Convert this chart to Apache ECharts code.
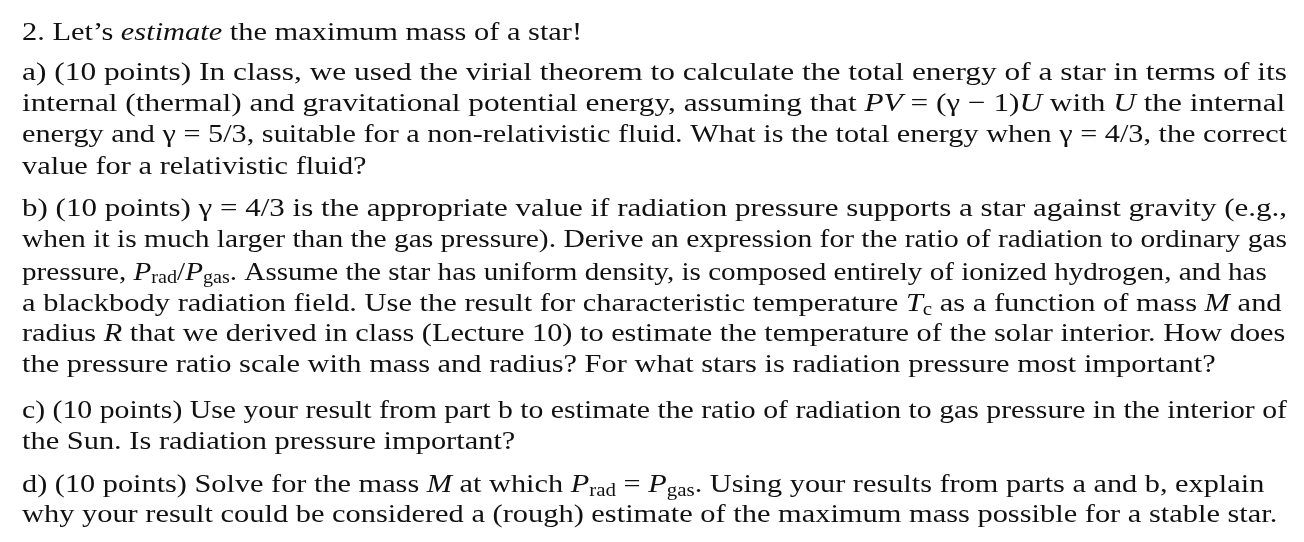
<!DOCTYPE html>
<html><head><meta charset="utf-8">
<script src="https://cdn.jsdelivr.net/npm/echarts@6/dist/echarts.min.js"></script>
<style>html,body{margin:0;background:#fff}#c{width:1304px;height:542px}</style>
</head><body><div id="c"></div>
<script>
// paragraph text, one entry per printed line; {i|..} italic, {s|..} subscript
const title = ["2. Let’s {i|estimate} the maximum mass of a star!"];
const partA = [
  "a) (10 points) In class, we used the virial theorem to calculate the total energy of a star in terms of its",
  "internal (thermal) and gravitational potential energy, assuming that {i|PV} = (γ − 1){i|U} with {i|U} the internal",
  "energy and γ = 5/3, suitable for a non-relativistic fluid. What is the total energy when γ = 4/3, the correct",
  "value for a relativistic fluid?"
];
const partB = [
  "b) (10 points) γ = 4/3 is the appropriate value if radiation pressure supports a star against gravity (e.g.,",
  "when it is much larger than the gas pressure). Derive an expression for the ratio of radiation to ordinary gas",
  "pressure, {i|P}{s|rad}/{i|P}{s|gas}. Assume the star has uniform density, is composed entirely of ionized hydrogen, and has",
  "a blackbody radiation field. Use the result for characteristic temperature {i|T}{s|c} as a function of mass {i|M} and",
  "radius {i|R} that we derived in class (Lecture 10) to estimate the temperature of the solar interior. How does",
  "the pressure ratio scale with mass and radius? For what stars is radiation pressure most important?"
];
const partC = [
  "c) (10 points) Use your result from part b to estimate the ratio of radiation to gas pressure in the interior of",
  "the Sun. Is radiation pressure important?"
];
const partD = [
  "d) (10 points) Solve for the mass {i|M} at which {i|P}{s|rad} = {i|P}{s|gas}. Using your results from parts a and b, explain",
  "why your result could be considered a (rough) estimate of the maximum mass possible for a stable star."
];
const paraTops = [35, 75, 211, 413, 486];
const paras = [title, partA, partB, partC, partD];

const font = '"Liberation Serif", "DejaVu Serif", serif';
const size = 26;
const rich = {
  i: {fontFamily: font, fontSize: size, fontStyle: 'italic', fill: '#111'},
  s: {fontFamily: font, fontSize: 18, fill: '#111', padding: [11, 0, 0, 0]}
};
const ctx = document.createElement('canvas').getContext('2d');
ctx.font = size + 'px "Liberation Serif"';
const lineWidth = 1265;
const elements = [];
paras.forEach((lines, p) => {
  lines.forEach((txt, k) => {
    const plain = txt.replace(/\{[is]\|([^}]*)\}/g, '$1');
    const w = ctx.measureText(plain).width;
    const last = k === lines.length - 1;
    const sx = last ? 1.17 : lineWidth / w;
    elements.push({
      type: 'text', x: 22, y: paraTops[p] + k * 31.3 - 15, scaleX: sx,
      style: {text: txt, fontFamily: font, fontSize: size, fill: '#111', rich: rich}
    });
  });
});
const chart = echarts.init(document.getElementById('c'));
chart.setOption({backgroundColor: '#fff', graphic: elements});
</script></body></html>
